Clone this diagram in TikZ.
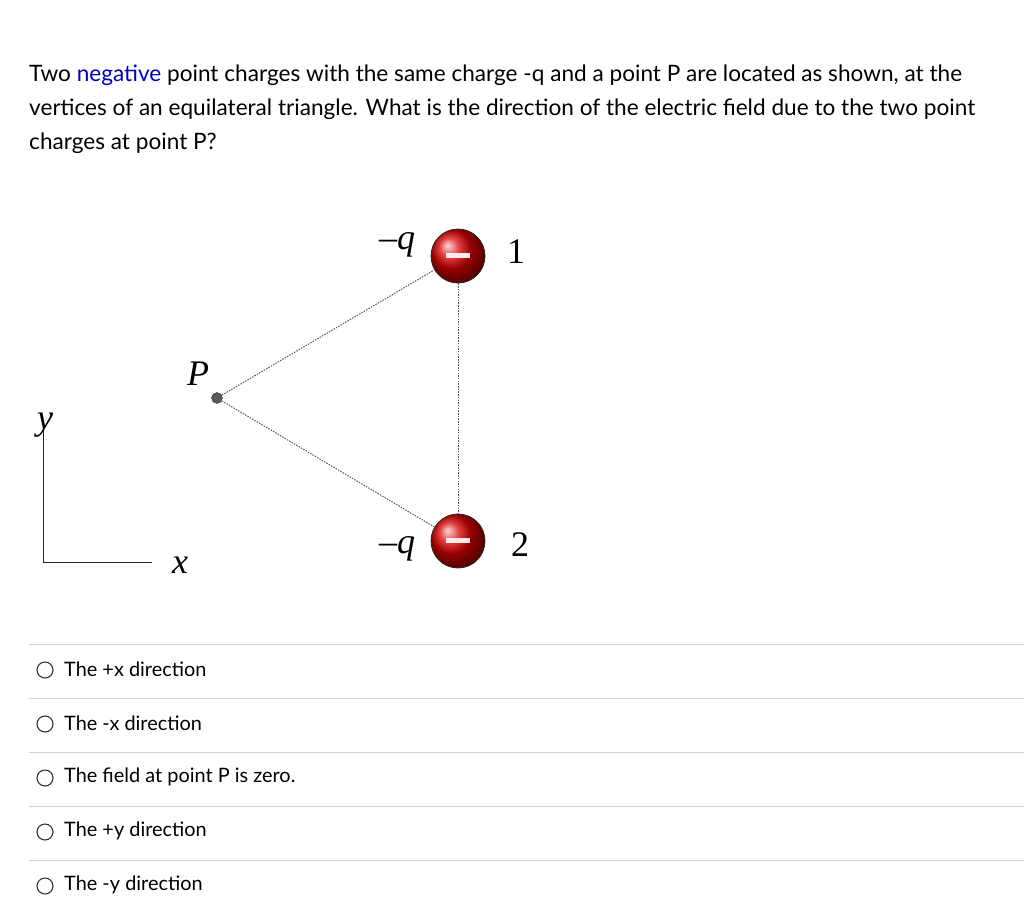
\documentclass[tikz,border=0pt]{standalone}
\usepackage{fontspec}
\setmainfont{Lato}
\newfontfamily\tms{Liberation Serif}
\begin{document}
\begin{tikzpicture}[x=1pt,y=-1pt,
  qtxt/.style={font=\fontsize{22.6}{26}\selectfont, anchor=west, inner sep=0},
  ans/.style={font=\fontsize{19.9}{22}\selectfont, anchor=west, inner sep=0},
  radio/.style={circle, draw=black!80, line width=1.1pt, minimum size=16pt, inner sep=0},
  sep/.style={draw=black!18, line width=0.8pt},
  dotl/.style={draw=black!65, dash pattern=on 1.5pt off 1.2pt, line width=1pt},
  charge/.style={circle, minimum size=54pt, inner sep=0, draw=black!85, line width=0.8pt, ball color=red!85!black, shading=ball},
  lab/.style={font=\tms\fontsize{36}{36}\selectfont, inner sep=0},
  ilab/.style={font=\tms\itshape\fontsize{36}{36}\selectfont, inner sep=0}]
\useasboundingbox (0,0) rectangle (1024,923);
\node[qtxt] (l1) at (29,75) {Two \textcolor{blue!75!black}{negative} point charges with the same charge -q and a point P are located as shown, at the};
\node[qtxt] (l2) at (29,109) {vertices of an equilateral triangle. What is the direction of the electric field due to the two point};
\node[qtxt] (l3) at (29,143) {charges at point P?};
% diagram
\node[circle, fill=black!65, draw=black!80, minimum size=11pt, inner sep=0] (P) at (217,398) {};
\node[charge] (c1) at (458,256) {};
\node[charge] (c2) at (458,541) {};
\fill[white!92!red] (446,253) rectangle (470,258);
\fill[white!92!red] (446,538) rectangle (470,543);
\draw[dotl] (P) -- (c1);
\draw[dotl] (P) -- (c2);
\draw[dotl] (c1) -- (c2);
\node[ilab] (Pl) at (198,374) {P};
\node[lab] (n1) at (516,252) {1};
\node[lab] (n2) at (520,545) {2};
\node[ilab] (q1) at (397,245) {–q};
\node[ilab] (q2) at (397,549) {–q};
% axes
\coordinate (o) at (43,562);
\coordinate (yt) at (43,430);
\coordinate (xt) at (152,562);
\draw[black!85, line width=1pt] (yt) -- (o) -- (xt);
\node[ilab] (yl) at (45,425) {y};
\node[ilab] (xl) at (180,565) {x};
% answers
\foreach \y in {644,698,752,806,860} \draw[sep] (29,\y) -- (1024,\y);
\node[radio] (r1) at (45,670) {}; \node[ans] (a1) at (64,669) {The +x direction};
\node[radio] (r2) at (45,724) {}; \node[ans] (a2) at (64,723) {The -x direction};
\node[radio] (r3) at (45,778) {}; \node[ans] (a3) at (64,777) {The field at point P is zero.};
\node[radio] (r4) at (45,832) {}; \node[ans] (a4) at (64,831) {The +y direction};
\node[radio] (r5) at (45,886) {}; \node[ans] (a5) at (64,885) {The -y direction};
\end{tikzpicture}
\end{document}
